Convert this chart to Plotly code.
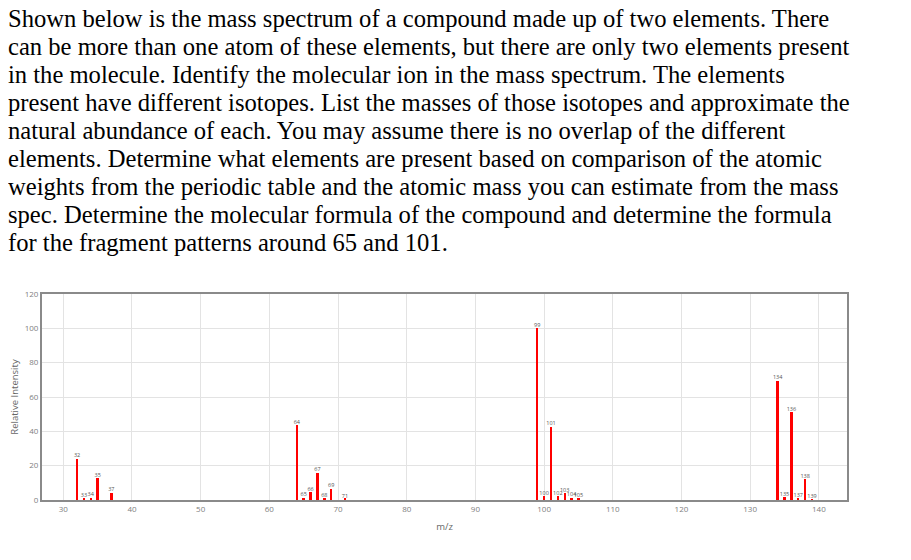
import plotly.graph_objects as go

mz = [32, 33, 34, 35, 37, 64, 65, 66, 67, 68, 69, 71,
      99, 100, 101, 102, 103, 104, 105, 134, 135, 136, 137, 138, 139]
intensity = [24, 0.8, 1.3, 12.6, 4.3, 43.5, 1.4, 4.6, 16, 1, 6.6, 0.6,
             100, 2.2, 42.7, 2.2, 3.9, 1.4, 0.8, 69.4, 1.6, 51.1, 1.2, 12, 0.5]
peak_labels = [str(m) for m in mz]

question_lines = [
    "Shown below is the mass spectrum of a compound made up of two elements. There",
    "can be more than one atom of these elements, but there are only two elements present",
    "in the molecule. Identify the molecular ion in the mass spectrum. The elements",
    "present have different isotopes. List the masses of those isotopes and approximate the",
    "natural abundance of each. You may assume there is no overlap of the different",
    "elements. Determine what elements are present based on comparison of the atomic",
    "weights from the periodic table and the atomic mass you can estimate from the mass",
    "spec. Determine the molecular formula of the compound and determine the formula",
    "for the fragment patterns around 65 and 101.",
]

OFF = 8  # page body margin
W, H = 911 - OFF, 560 - OFF
L, R, T, B = 42 - OFF, 847 - OFF, 294 - OFF, 500 - OFF
pw, ph = R - L, B - T

fig = go.Figure()
fig.add_trace(go.Bar(x=mz, y=intensity, width=0.35, marker=dict(color="#ff0000", line=dict(width=0)),
                     hoverinfo="x+y"))
fig.add_trace(go.Scatter(x=mz, y=intensity, mode="text", text=peak_labels,
                         textposition="top center",
                         textfont=dict(size=5.5, color="#555555", family="Open Sans"),
                         hoverinfo="skip"))

annotations = []
for i, line in enumerate(question_lines):
    baseline = 27 + 28 * i - OFF
    cy = baseline - 8.3
    annotations.append(dict(
        text=line, xref="paper", yref="paper",
        x=(0 - L) / pw, y=(B - cy) / ph, xanchor="left", yanchor="middle",
        showarrow=False, align="left", borderpad=0, borderwidth=0,
        font=dict(family="Liberation Serif, Times New Roman, serif", size=24.6, color="#000000"),
    ))

fig.update_layout(
    width=W, height=H,
    margin=dict(l=L, r=W - R, t=T, b=H - B, autoexpand=False),
    paper_bgcolor="white", plot_bgcolor="white",
    showlegend=False, bargap=0,
    annotations=annotations,
    font=dict(family="Open Sans", color="#888888"),
)
fig.update_xaxes(range=[26.9, 144.1], dtick=10, tick0=0, showgrid=True, gridcolor="#e3e3e3", gridwidth=1,
                 showline=True, mirror=True, linecolor="#8a8a8a", linewidth=2, zeroline=False,
                 ticks="", tickfont=dict(size=8, color="#808080"), automargin=False,
                 title=dict(text="m/z", font=dict(size=9.5, color="#666666"), standoff=11))
fig.update_yaxes(range=[0, 120], dtick=20, showgrid=True, gridcolor="#e3e3e3", gridwidth=1,
                 showline=True, mirror=True, linecolor="#8a8a8a", linewidth=2, zeroline=False,
                 ticks="", tickfont=dict(size=8, color="#808080"), automargin=False,
                 title=dict(text="Relative Intensity", font=dict(size=9.5, color="#666666"), standoff=4))

fig.write_html("out.html")
